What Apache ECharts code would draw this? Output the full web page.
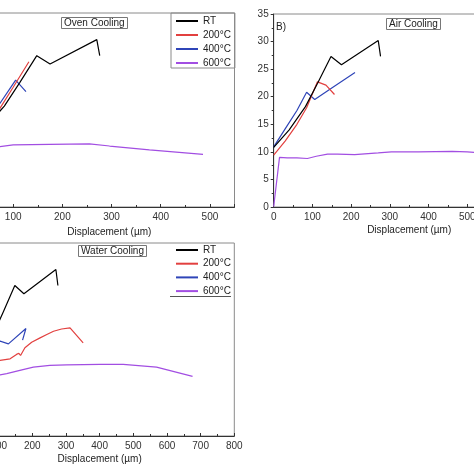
<!DOCTYPE html>
<html><head><meta charset="utf-8">
<script src="https://cdn.jsdelivr.net/npm/echarts@6/dist/echarts.min.js"></script>
<style>html,body{margin:0;padding:0;background:#fff}#c{width:474px;height:474px}</style>
</head><body><div id="c"></div>
<script>
// ---- data (displacement µm, load) ----
const seriesNames = ['RT', '200°C', '400°C', '600°C'];
const panelTitles = ['Oven Cooling', 'Air Cooling', 'Water Cooling'];
const rt = [[0,10.8],[40,14.0],[82,18.2],[113,22.4],[148,27.3],[175,25.8],[270,30.2],[276,27.3]];
const oven200 = [[0,9.6],[40,13.4],[73,17.8],[100,21.6],[132,26.2]];
const oven400 = [[0,10.5],[40,14.5],[73,18.7],[105,22.9],[126,20.8]];
const oven600 = [[0,0],[10,9.5],[40,10.3],[73,10.9],[100,11.2],[174,11.3],[255,11.4],[296,11.0],[377,10.3],[486,9.5]];
const air200 = [[0,9.4],[30,12.0],[60,15.0],[85,18.0],[113,22.7],[135,22.1],[157,20.4]];
const air400 = [[0,10.9],[30,14.2],[60,17.5],[85,20.8],[106,19.5],[150,21.6],[210,24.4]];
const air600 = [[0,0.1],[15,9.0],[35,8.9],[60,8.9],[87,8.8],[110,9.2],[139,9.6],[165,9.6],[209,9.5],[270,9.8],[304,10.0],[374,10.0],[461,10.1],[500,10.0],[540,9.8]];
const water200 = [[0,9.5],[50,12.5],[104,13.7],[134,14.0],[153,14.8],[160,15.0],[165,14.6],[178,16.0],[198,17.0],[223,17.8],[243,18.4],[263,19.0],[287,19.4],[312,19.6],[351,16.9]];
const water400 = [[0,10.5],[50,14.5],[104,17.2],[129,16.7],[181,19.5],[171,17.4]];
const water600 = [[0,0],[10,9.0],[50,10.3],[104,11.1],[124,11.3],[163,11.9],[203,12.5],[252,12.8],[302,12.9],[401,13.0],[470,13.0],[569,12.5],[676,10.8]];
const xMax = [550, 700, 800];
const yMin = 0, yMax = 35, yStep = 5, xStep = 100;

const colors = ['#000000', '#e2403f', '#2f45b8', '#a24ee2'];
const panelData = [
  [rt, oven200, oven400, oven600],
  [rt, air200, air400, air600],
  [rt, water200, water400, water600]
];

const font = 'Liberation Sans, Arial, sans-serif';
const chart = echarts.init(document.getElementById('c'));

const grids = [
  {left: -36, top: 13, width: 270.5, height: 194},
  {left: 273.7, top: 14, width: 271, height: 193},
  {left: -35, top: 243, width: 269.3, height: 193}
].map(g => Object.assign(g, {show: true, borderColor: '#8a8a8a', borderWidth: 1,
  backgroundColor: 'transparent', containLabel: false, outerBoundsMode: 'none'}));

const nameGaps = [20, 18, 18];
const namePads = [[0,0,0,20],[0,0,0,0],[0,0,0,0]];

const xAxes = xMax.map((m, i) => ({
  type: 'value', gridIndex: i, min: 0, max: m, interval: xStep,
  name: 'Displacement (µm)', nameLocation: 'middle', nameGap: nameGaps[i],
  nameTextStyle: {fontSize: 10, color: '#222', fontFamily: font, padding: namePads[i]},
  axisLine: {onZero: false, lineStyle: {color: '#333', width: 1}},
  axisTick: {inside: true, length: 3, lineStyle: {color: '#333'}},
  minorTick: {show: true, splitNumber: 2, length: 2, lineStyle: {color: '#333'}},
  splitLine: {show: false},
  axisLabel: {fontSize: 10, color: '#333', margin: 5, fontFamily: font,
    formatter: v => (v % 100 === 0 ? String(v) : '')}
}));

const yAxes = [0, 1, 2].map(i => ({
  type: 'value', gridIndex: i, min: yMin, max: yMax, interval: yStep,
  axisLine: {show: true, onZero: false, lineStyle: {color: '#333', width: 1}},
  axisTick: {show: true, inside: false, length: 3, lineStyle: {color: '#333'}},
  minorTick: {show: true, splitNumber: 2, length: 2, lineStyle: {color: '#333'}},
  splitLine: {show: false},
  axisLabel: {fontSize: 10, color: '#333', margin: 5, fontFamily: font}
}));

const series = [];
panelData.forEach((arrs, p) => {
  arrs.forEach((d, k) => {
    series.push({
      type: 'line', name: seriesNames[k], xAxisIndex: p, yAxisIndex: p,
      data: d, symbol: 'none', smooth: false,
      lineStyle: {color: colors[k], width: 1.2}, itemStyle: {color: colors[k]},
      z: 5 - k
    });
  });
});

const boxTitle = (text, left, top) => ({
  text, left, top, padding: [1, 3],
  borderColor: '#777', borderWidth: 1,
  textStyle: {fontSize: 10, fontWeight: 'normal', color: '#222', fontFamily: font}
});

const legendBase = {
  orient: 'vertical', data: seriesNames, itemWidth: 22, itemHeight: 10,
  textStyle: {fontSize: 10, color: '#222', fontFamily: font, lineHeight: 10},
  itemStyle: {opacity: 0}, selectedMode: false
};

chart.setOption({
  animation: false,
  backgroundColor: '#fff',
  color: colors,
  title: [
    boxTitle(panelTitles[0], 61, 17),
    boxTitle(panelTitles[1], 386, 18),
    boxTitle(panelTitles[2], 78, 245),
    {text: 'B)', left: 276, top: 22, padding: 0,
      textStyle: {fontSize: 10, fontWeight: 'normal', color: '#222', fontFamily: font}}
  ],
  legend: [
    Object.assign({}, legendBase, {left: 171, top: 13, itemGap: 4, padding: [3, 4, 0, 4],
      borderColor: '#8a8a8a', borderWidth: 1}),
    Object.assign({}, legendBase, {left: 171, top: 245, itemGap: 3.7, padding: [0, 4, 0, 4]})
  ],
  grid: grids,
  xAxis: xAxes,
  yAxis: yAxes,
  series,
  graphic: [
    {type: 'line', shape: {x1: 170, y1: 296.5, x2: 231, y2: 296.5},
      style: {stroke: '#555', lineWidth: 1}}
  ]
});
</script></body></html>
